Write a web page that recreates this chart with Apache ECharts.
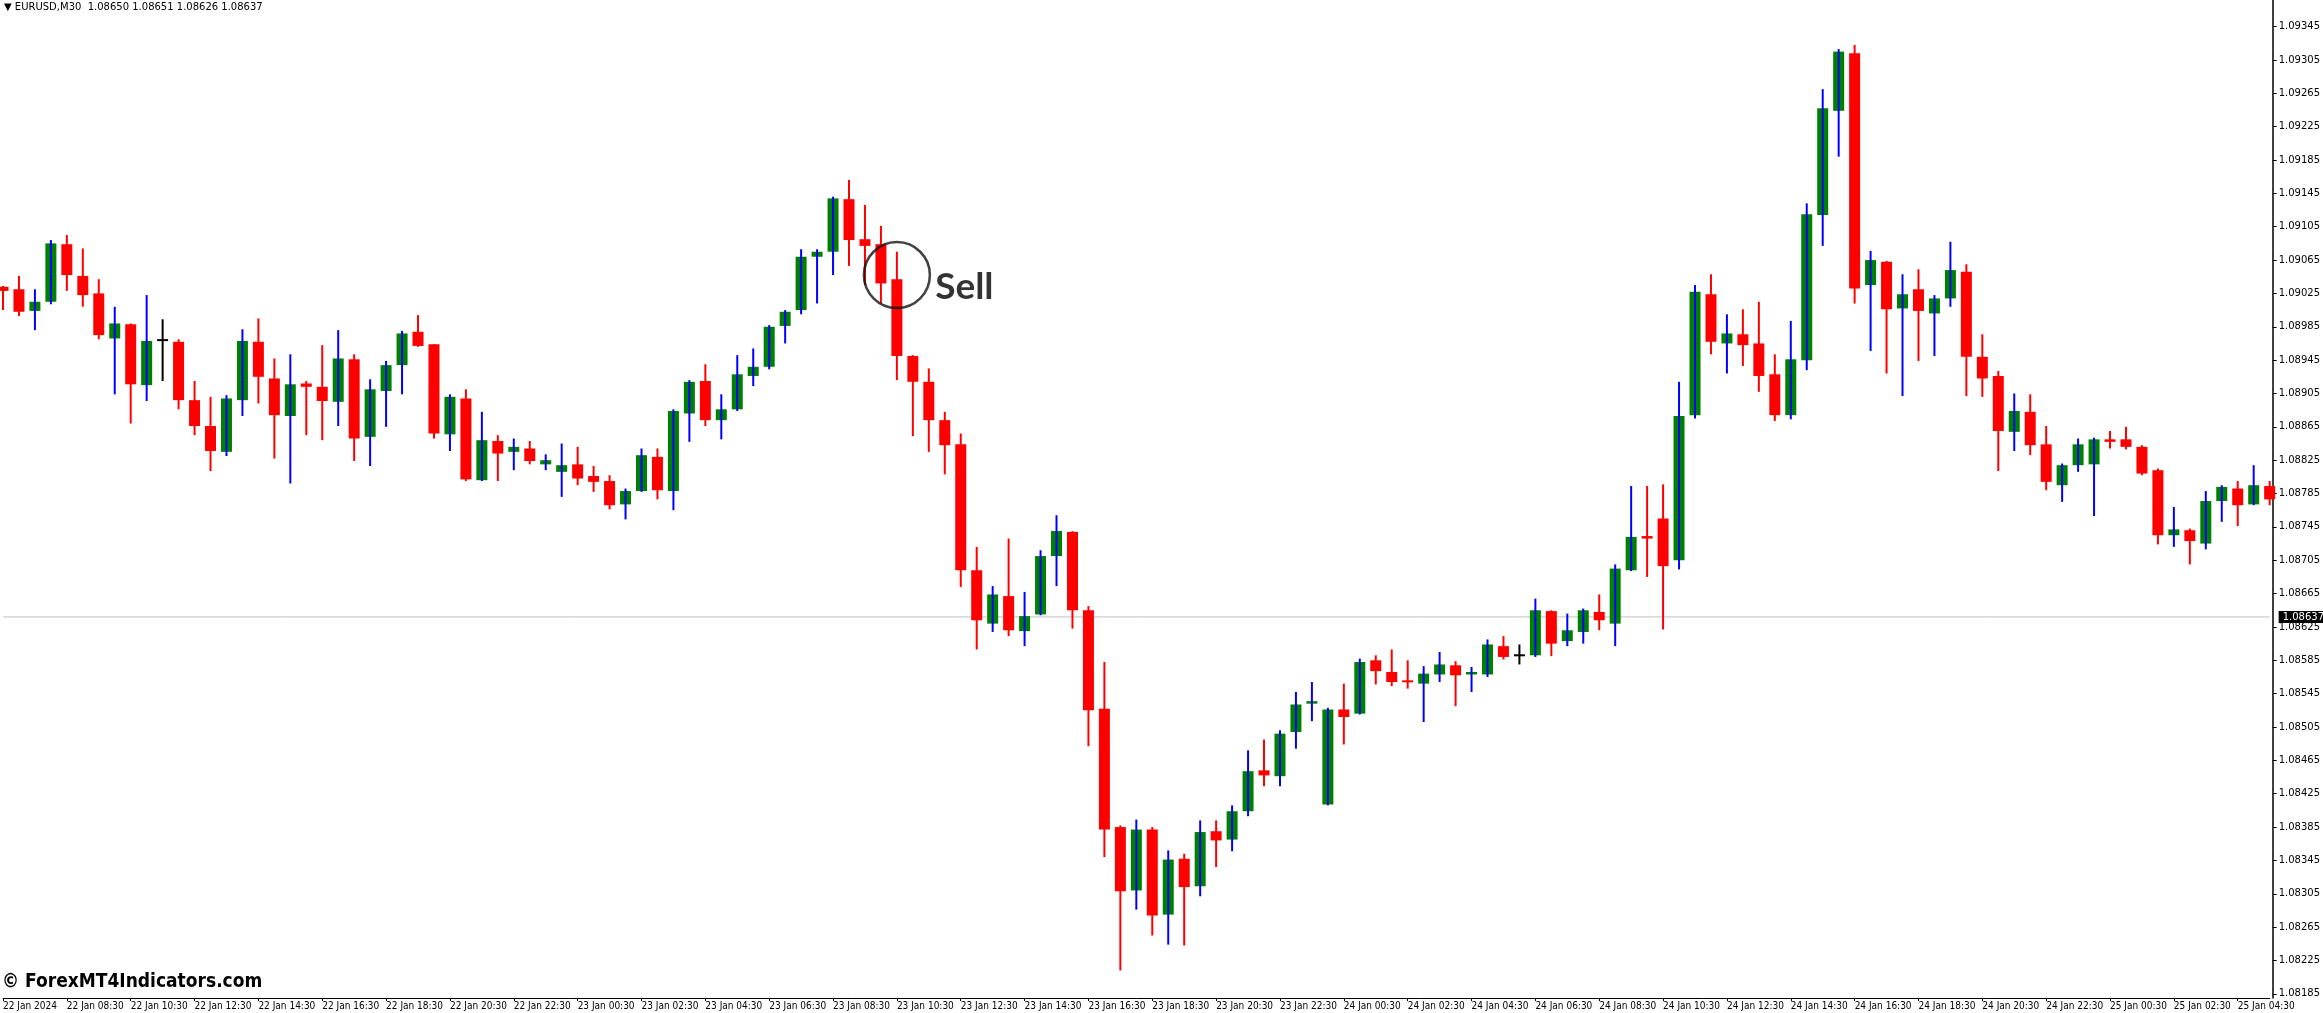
<!DOCTYPE html>
<html><head><meta charset="utf-8">
<script src="https://cdn.jsdelivr.net/npm/echarts@6/dist/echarts.min.js"></script>
<style>html,body{margin:0;padding:0;background:#fff}#c{width:2323px;height:1013px}</style>
</head><body><div id="c"></div>
<script>
const opens=[1.09033,1.09030,1.09004,1.09015,1.09084,1.09046,1.09025,1.08971,1.08988,1.08915,1.08969,1.08967,1.08897,1.08866,1.08835,1.08897,1.08967,1.08923,1.08878,1.08917,1.08913,1.08895,1.08946,1.08853,1.08908,1.08939,1.08979,1.08964,1.08856,1.08899,1.08801,1.08848,1.08835,1.08839,1.08820,1.08811,1.08820,1.08806,1.08800,1.08772,1.08788,1.08829,1.08788,1.08881,1.08920,1.08873,1.08886,1.08926,1.08937,1.08986,1.09005,1.09069,1.09075,1.09138,1.09090,1.09084,1.09042,1.08950,1.08919,1.08873,1.08844,1.08693,1.08629,1.08662,1.08620,1.08640,1.08710,1.08739,1.08645,1.08527,1.08385,1.08309,1.08382,1.08280,1.08347,1.08314,1.08380,1.08370,1.08404,1.08453,1.08446,1.08499,1.08533,1.08412,1.08526,1.08521,1.08585,1.08571,1.08561,1.08557,1.08568,1.08579,1.08568,1.08568,1.08602,1.08591,1.08591,1.08644,1.08608,1.08619,1.08643,1.08629,1.08693,1.08734,1.08755,1.08705,1.08879,1.09024,1.08965,1.08976,1.08965,1.08928,1.08879,1.08945,1.09119,1.09244,1.09313,1.09035,1.09063,1.09007,1.09030,1.09001,1.09019,1.09051,1.08949,1.08926,1.08859,1.08883,1.08844,1.08795,1.08819,1.08820,1.08850,1.08850,1.08841,1.08813,1.08735,1.08741,1.08725,1.08776,1.08791,1.08772,1.08794];
const closes=[1.09028,1.09003,1.09015,1.09085,1.09047,1.09023,1.08975,1.08989,1.08916,1.08968,1.08969,1.08897,1.08866,1.08836,1.08899,1.08968,1.08925,1.08879,1.08916,1.08913,1.08896,1.08947,1.08851,1.08910,1.08939,1.08977,1.08962,1.08857,1.08901,1.08802,1.08849,1.08833,1.08841,1.08824,1.08825,1.08819,1.08803,1.08799,1.08771,1.08788,1.08831,1.08789,1.08884,1.08919,1.08873,1.08886,1.08928,1.08937,1.08985,1.09003,1.09069,1.09075,1.09139,1.09089,1.09082,1.09037,1.08950,1.08919,1.08873,1.08843,1.08693,1.08633,1.08664,1.08621,1.08638,1.08710,1.08740,1.08645,1.08525,1.08382,1.08308,1.08382,1.08279,1.08346,1.08313,1.08379,1.08369,1.08404,1.08452,1.08447,1.08497,1.08532,1.08536,1.08526,1.08517,1.08583,1.08572,1.08559,1.08559,1.08569,1.08580,1.08567,1.08571,1.08604,1.08589,1.08591,1.08645,1.08605,1.08621,1.08645,1.08633,1.08695,1.08733,1.08731,1.08698,1.08878,1.09027,1.08967,1.08977,1.08963,1.08926,1.08879,1.08946,1.09120,1.09247,1.09315,1.09031,1.09065,1.09006,1.09024,1.09004,1.09019,1.09053,1.08949,1.08923,1.08860,1.08884,1.08843,1.08799,1.08819,1.08844,1.08850,1.08847,1.08841,1.08809,1.08735,1.08742,1.08728,1.08776,1.08793,1.08771,1.08795,1.08778];
const highs=[1.09034,1.09046,1.09030,1.09089,1.09095,1.09079,1.09042,1.09009,1.08989,1.09023,1.08994,1.08970,1.08920,1.08901,1.08903,1.08982,1.08995,1.08947,1.08952,1.08920,1.08963,1.08981,1.08952,1.08922,1.08944,1.08980,1.08999,1.08964,1.08904,1.08910,1.08883,1.08855,1.08851,1.08848,1.08832,1.08845,1.08841,1.08818,1.08807,1.08791,1.08839,1.08839,1.08886,1.08921,1.08940,1.08904,1.08951,1.08959,1.08987,1.09005,1.09078,1.09078,1.09141,1.09161,1.09131,1.09106,1.09075,1.08951,1.08935,1.08883,1.08857,1.08721,1.08674,1.08731,1.08667,1.08717,1.08759,1.08740,1.08650,1.08583,1.08387,1.08394,1.08385,1.08357,1.08353,1.08393,1.08393,1.08411,1.08477,1.08490,1.08501,1.08547,1.08559,1.08528,1.08557,1.08587,1.08591,1.08598,1.08585,1.08578,1.08595,1.08584,1.08577,1.08610,1.08614,1.08604,1.08659,1.08645,1.08641,1.08647,1.08664,1.08700,1.08794,1.08794,1.08796,1.08919,1.09035,1.09048,1.09000,1.09006,1.09015,1.08952,1.08992,1.09133,1.09270,1.09318,1.09323,1.09076,1.09064,1.09048,1.09054,1.09023,1.09087,1.09060,1.08976,1.08932,1.08905,1.08904,1.08866,1.08821,1.08851,1.08852,1.08860,1.08865,1.08843,1.08815,1.08769,1.08743,1.08788,1.08795,1.08800,1.08819,1.08800];
const lows=[1.09005,1.08998,1.08981,1.09012,1.09028,1.09009,1.08970,1.08904,1.08869,1.08896,1.08920,1.08886,1.08855,1.08812,1.08830,1.08878,1.08893,1.08827,1.08797,1.08855,1.08849,1.08866,1.08824,1.08818,1.08865,1.08904,1.08961,1.08851,1.08836,1.08800,1.08800,1.08800,1.08813,1.08820,1.08813,1.08781,1.08795,1.08787,1.08766,1.08754,1.08787,1.08778,1.08765,1.08847,1.08866,1.08850,1.08884,1.08914,1.08934,1.08965,1.09000,1.09013,1.09047,1.09058,1.09035,1.09013,1.08921,1.08854,1.08835,1.08808,1.08673,1.08598,1.08619,1.08614,1.08602,1.08639,1.08674,1.08623,1.08482,1.08349,1.08213,1.08286,1.08255,1.08244,1.08243,1.08302,1.08337,1.08356,1.08398,1.08434,1.08434,1.08479,1.08512,1.08411,1.08484,1.08520,1.08556,1.08554,1.08551,1.08511,1.08559,1.08530,1.08547,1.08565,1.08586,1.08580,1.08589,1.08590,1.08602,1.08605,1.08621,1.08602,1.08692,1.08685,1.08622,1.08694,1.08875,1.08952,1.08929,1.08938,1.08907,1.08872,1.08874,1.08933,1.09082,1.09189,1.09013,1.08956,1.08929,1.08902,1.08944,1.08950,1.09009,1.08902,1.08901,1.08812,1.08836,1.08831,1.08789,1.08775,1.08811,1.08758,1.08839,1.08838,1.08807,1.08724,1.08721,1.08700,1.08718,1.08751,1.08746,1.08771,1.08771];
const priceTicks=[1.08185,1.08225,1.08265,1.08305,1.08345,1.08385,1.08425,1.08465,1.08505,1.08545,1.08585,1.08625,1.08665,1.08705,1.08745,1.08785,1.08825,1.08865,1.08905,1.08945,1.08985,1.09025,1.09065,1.09105,1.09145,1.09185,1.09225,1.09265,1.09305,1.09345];
const bidPrice=1.08637;
const sellIndex=56, sellPrice=1.09047;
const headerText='\u25BC EURUSD,M30  1.08650 1.08651 1.08626 1.08637';

const start=Date.UTC(2024,0,22,6,30);
const cats=opens.map((_,i)=>{const d=new Date(start+i*1800000);const p=n=>String(n).padStart(2,'0');
  return i===0?'22 Jan 2024':d.getUTCDate()+' Jan '+p(d.getUTCHours())+':'+p(d.getUTCMinutes());});
const data=opens.map((o,i)=>[i,o,closes[i],lows[i],highs[i]]);
const last=opens.length-1;

const chart=echarts.init(document.getElementById('c'));
chart.setOption({
  animation:false,backgroundColor:'#fff',
  grid:{left:0,right:51,top:0,bottom:15},
  xAxis:{type:'category',data:cats,boundaryGap:false,
    axisLine:{lineStyle:{color:'#000',width:1}},
    axisTick:{interval:3,length:3,lineStyle:{color:'#000'}},
    axisLabel:{interval:3,fontSize:10,color:'#000',fontFamily:'DejaVu Sans Condensed',align:'left',margin:3},
    splitLine:{show:false}},
  yAxis:{type:'value',position:'right',offset:3,min:1.0818,max:1.093769,
    axisLine:{show:true,lineStyle:{color:'#000',width:1.5}},
    axisTick:{show:true,customValues:priceTicks,length:4,inside:false,lineStyle:{color:'#000'}},
    axisLabel:{customValues:priceTicks,fontSize:10,color:'#000',fontFamily:'DejaVu Sans',margin:6,formatter:v=>v.toFixed(5)},
    splitLine:{show:false}},
  series:[{
    type:'line',data:[[0,bidPrice],[last,bidPrice]],symbol:'none',silent:true,
    lineStyle:{color:'#c0c0c0',width:1},z:1,
    endLabel:{show:true,formatter:bidPrice.toFixed(5),backgroundColor:'#000',color:'#fff',fontSize:10,fontFamily:'DejaVu Sans',padding:[1,8,1,4],distance:9}
  },{
    type:'custom',
    data:data,
    encode:{x:0,y:[1,2,3,4]},
    z:3,
    renderItem:function(params,api){
      const i=api.value(0),o=api.value(1),c=api.value(2),l=api.value(3),h=api.value(4);
      const pO=api.coord([i,o]),pC=api.coord([i,c]),pL=api.coord([i,l]),pH=api.coord([i,h]);
      const bull=c>o,doji=c===o;
      const body=doji?'#000':(bull?'#008000':'#ff0000');
      const wick=doji?'#000':(bull?'#0000ff':'#ff0000');
      const w=11,top=Math.min(pO[1],pC[1]),ht=Math.max(Math.abs(pO[1]-pC[1]),2);
      return {type:'group',children:[
        {type:'rect',shape:{x:pO[0]-w/2,y:doji?top-1:top,width:w,height:ht},style:{fill:body}},
        {type:'rect',shape:{x:pH[0]-1,y:pH[1],width:2,height:pL[1]-pH[1]},style:{fill:wick}}
      ]};
    }
  },{
    type:'scatter',data:[[sellIndex,sellPrice]],symbol:'circle',symbolSize:66,
    itemStyle:{color:'rgba(0,0,0,0)',borderColor:'#111',borderWidth:2.5},
    label:{show:true,position:'right',distance:4,offset:[0,12],formatter:'Sell',fontSize:37,fontWeight:'bold',color:'#000',fontFamily:'Lato'},
    z:5
  }],
  graphic:[
    {type:'text',left:4,top:2,style:{text:headerText,fontSize:10,fill:'#000',fontFamily:'DejaVu Sans'}},
    {type:'text',left:2,top:973,style:{text:'\u00A9 ForexMT4Indicators.com',fontSize:19,fontWeight:'bold',fill:'#000',fontFamily:'DejaVu Sans Condensed'}}
  ]
});
</script></body></html>
